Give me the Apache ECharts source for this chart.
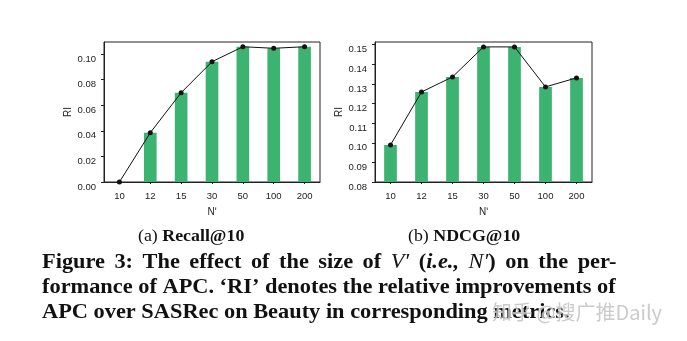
<!DOCTYPE html>
<html><head><meta charset="utf-8">
<script src="https://cdn.jsdelivr.net/npm/echarts@6/dist/echarts.min.js"></script>
<style>html,body{margin:0;padding:0;background:#fff}#c{width:687px;height:341px}</style>
</head><body><div id="c"></div>
<script>
var categories = ['10','12','15','30','50','100','200'];
var recallRI = [0.0, 0.0385, 0.0698, 0.094, 0.1057, 0.1045, 0.1057];
var ndcgRI = [0.0989, 0.1259, 0.1336, 0.1489, 0.1489, 0.1285, 0.1331];
var recallTicks = [0, 0.1094, 0.02];
var ndcgTicks = [0.08, 0.1514, 0.01];

var chart = echarts.init(document.getElementById('c'), null, {renderer:'canvas'});
var green = '#3cb371';
var tickFont = {fontFamily:'Liberation Sans', fontSize:9.5, color:'#222'};
function yAxis(idx, t){
  return {type:'value', gridIndex:idx, min:t[0], max:t[1], interval:t[2],
    name:'RI', nameLocation:'middle', nameGap: 25, nameRotate:90,
    nameTextStyle:{fontFamily:'Liberation Sans', fontSize:10, color:'#222'},
    axisLine:{show:true, lineStyle:{color:'#222', width:1}},
    axisTick:{show:true, length:3, lineStyle:{color:'#222'}},
    splitLine:{show:false},
    axisLabel:Object.assign({margin:8, showMaxLabel:false, verticalAlign:'top',
      formatter:function(v){return v.toFixed(2);}}, tickFont)};
}
function xAxis(idx){
  return {type:'category', gridIndex:idx, data:categories,
    name:'N\u02B9', nameLocation:'middle', nameGap:25,
    nameTextStyle:{fontFamily:'Liberation Sans', fontSize:10, color:'#222'},
    axisLine:{show:true, lineStyle:{color:'#222', width:1}},
    axisTick:{show:true, alignWithLabel:true, length:2, lineStyle:{color:'#222'}},
    axisLabel:Object.assign({margin:9, interval:0}, tickFont)};
}
function series(idx, data){
  return [
    {type:'bar', xAxisIndex:idx, yAxisIndex:idx, data:data, barWidth:'41%',
      itemStyle:{color:green}, silent:true, animation:false},
    {type:'line', xAxisIndex:idx, yAxisIndex:idx, data:data, symbol:'circle', symbolSize:5,
      itemStyle:{color:'#111'}, lineStyle:{color:'#111', width:1}, animation:false, z:5}
  ];
}
var F = '"Liberation Serif"';
var cap = {fontFamily:'Liberation Serif', fontWeight:'bold', fontSize:21, fill:'#111'};
function sp(w){ return {fontFamily:'Liberation Serif', fontSize:21, width:w}; }
var line1 = ['Figure','3:','The','effect','of','the','size','of','{i|V\u2032}','({bi|i.e.,}','{i|N\u2032})','on','the','per-'];
var line1Text = line1.map(function(w){ return w.charAt(0)==='{' || w.indexOf('{')>=0 ? w.replace(/^([^{]+)/,'{b|$1}').replace(/\)$/, '{b|)}') : '{b|'+w+'}'; }).join('{s| }');
chart.setOption({
  animation:false,
  grid:[
    {left:104, top:42, width:216, height:140, show:true, borderColor:'#222', borderWidth:1, backgroundColor:'transparent'},
    {left:375, top:42, width:217, height:140, show:true, borderColor:'#222', borderWidth:1, backgroundColor:'transparent'}
  ],
  xAxis:[xAxis(0), xAxis(1)],
  yAxis:[yAxis(0, recallTicks), yAxis(1, ndcgTicks)],
  series: series(0, recallRI).concat(series(1, ndcgRI)),
  graphic:[
    {type:'text', x:138, y:228, scaleX:1.05, originX:0, originY:0, style:{x:0, y:0,
      text:'{r|(a) }{b|Recall@10}',
      rich:{r:{fontFamily:'Liberation Serif', fontSize:17, fill:'#111'}, b:{fontFamily:'Liberation Serif', fontWeight:'bold', fontSize:17, fill:'#111'}}}},
    {type:'text', x:408, y:228, scaleX:1.05, originX:0, originY:0, style:{x:0, y:0,
      text:'{r|(b) }{b|NDCG@10}',
      rich:{r:{fontFamily:'Liberation Serif', fontSize:17, fill:'#111'}, b:{fontFamily:'Liberation Serif', fontWeight:'bold', fontSize:17, fill:'#111'}}}},
    {type:'text', x:42, y:252, scaleX:1.065, originX:0, originY:0, style:{x:0, y:0,
      text: line1Text,
      rich:{b:cap, s:sp(8.9),
            bi:{fontFamily:'Liberation Serif', fontWeight:'bold', fontStyle:'italic', fontSize:21, fill:'#111'},
            i:{fontFamily:'Liberation Serif', fontStyle:'italic', fontSize:21, fill:'#111'}}}},
    {type:'text', x:42, y:277, scaleX:1.065, originX:0, originY:0, style:{x:0, y:0,
      text:'formance of APC. \u2018RI\u2019 denotes the relative improvements of',
      font:'bold 21px ' + F, fill:'#111'}},
    {type:'text', x:42, y:302, scaleX:1.065, originX:0, originY:0, style:{x:0, y:0,
      text:'APC over SASRec on Beauty in corresponding metrics.',
      font:'bold 21px ' + F, fill:'#111'}},
    {type:'text', x:492, y:302, z:100, style:{x:0, y:0,
      text:'知乎 @搜广推Daily',
      font:'20px "Noto Sans CJK SC"', fill:'rgba(190,190,190,0.8)', stroke:'rgba(255,255,255,0.6)', lineWidth:1}}
  ]
});
</script></body></html>
